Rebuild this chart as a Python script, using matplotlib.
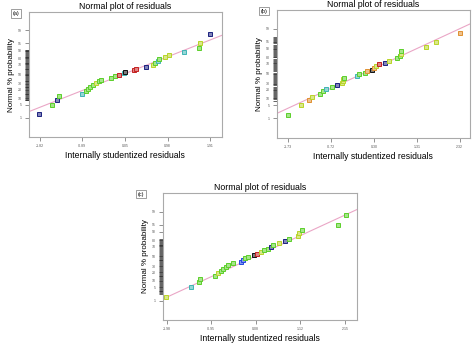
import numpy as np
import matplotlib
matplotlib.use("Agg")
import matplotlib.pyplot as plt
from matplotlib.colors import to_rgb
from statistics import NormalDist

plt.rcParams['font.family'] = ['Liberation Sans', 'DejaVu Sans']

# residuals (sorted)
resid_a = [-1.835, -1.55, -1.45, -1.40, -0.90, -0.80, -0.76, -0.71, -0.66, -0.58,
           -0.52, -0.48, -0.26, -0.17, -0.08, 0.02, 0.04, 0.25, 0.28, 0.51,
           0.67, 0.70, 0.76, 0.80, 0.92, 1.02, 1.33, 1.66, 1.69, 1.91]
resid_b = [-1.72, -1.43, -1.23, -1.15, -0.98, -0.90, -0.84, -0.69, -0.58, -0.46,
           -0.44, -0.43, -0.41, -0.10, -0.05, 0.10, 0.13, 0.25, 0.30, 0.36,
           0.41, 0.56, 0.66, 0.84, 0.91, 0.94, 0.95, 1.54, 1.76, 2.32]
resid_c = [-1.995, -1.41, -1.24, -1.22, -0.86, -0.80, -0.72, -0.67, -0.62, -0.57,
           -0.45, -0.26, -0.21, -0.16, -0.09, 0.05, 0.12, 0.20, 0.27, 0.37,
           0.44, 0.48, 0.62, 0.76, 0.86, 1.07, 1.09, 1.15, 2.00, 2.17]

# point colour codes per rank
cols_a = "NGNGTGGGGYGGGGRTKRRNYGTGYYTGYN"
cols_b = "GYOYGGTGNYYYGTGGOKOYRNYGGYGYYO"
cols_c = "YTGGGYGGGGGBBGGKRYGGNGYNGYYGGG"

xticks_a = [-1.82, -0.89, 0.05, 0.98, 1.91]
xticks_b = [-1.73, -0.72, 0.30, 1.31, 2.32]
xticks_c = [-1.98, -0.95, 0.08, 1.12, 2.15]

# fitted line: slope, intercept in normal-score units
line_a = [0.96, -0.02]
line_b = [1.02, -0.04]
line_c = [1.04, -0.09]

prob_ticks = [1, 5, 10, 20, 30, 50, 70, 80, 90, 95, 99]

palette = {'N': '#1c2280', 'G': '#5ccf2a', 'Y': '#b9d428', 'T': '#3fb4b4',
           'R': '#c42020', 'B': '#2346e0', 'K': '#111111', 'O': '#e09030'}

nd = NormalDist()


def lighten(c, f=0.45):
    r, g, b = to_rgb(c)
    return (r + (1 - r) * f, g + (1 - g) * f, b + (1 - b) * f)


def draw_panel(fig, rect, resid, cols, xticks, line, xlim, tag, tagx, band):
    ax = fig.add_axes(rect)
    n = len(resid)
    z = [nd.inv_cdf((i + 0.5) / n) for i in range(n)]
    xs = np.linspace(xlim[0], xlim[1], 2)
    ax.plot(xs, line[0] * xs + line[1], color='#eaa6c6', lw=0.8, zorder=1)
    for x, y, c in zip(resid, z, cols):
        col = palette[c]
        ax.plot(x, y, 's', ms=3.0, mfc=lighten(col), mec=col, mew=0.7, zorder=3)
    ax.set_xlim(xlim)
    ax.set_ylim(-3.35, 3.3)
    ax.set_xticks(xticks)
    ax.set_xticklabels(['%.2f' % t for t in xticks])
    ax.set_yticks([nd.inv_cdf(p / 100) for p in prob_ticks])
    ax.set_yticklabels([str(p) for p in prob_ticks])
    # dense tick stack on the left spine
    ax.set_yticks(np.linspace(band[0], band[1], 60), minor=True)
    ax.tick_params(axis='y', which='minor', length=3, width=0.5, color='#222222')
    ax.tick_params(axis='both', which='major', labelsize=2.5, length=3, width=0.5,
                   color='#666666', labelcolor='#555555', pad=2)
    for s in ax.spines.values():
        s.set_color('#aaaaaa')
        s.set_linewidth(0.8)
    ax.set_title('Normal plot of residuals', fontsize=6.3, pad=2)
    ax.set_xlabel('Internally studentized residuals', fontsize=6.2, labelpad=2)
    ax.set_ylabel('Normal % probability', fontsize=5.8, labelpad=2)
    ax.text(tagx, 1.01, tag, transform=ax.transAxes, fontsize=4, ha='center', va='top',
            bbox=dict(boxstyle='square,pad=0.3', fc='white', ec='#777777', lw=0.5))
    return ax


fig = plt.figure(figsize=(4.74, 3.46), dpi=100)
draw_panel(fig, [0.061, 0.604, 0.407, 0.361], resid_a, cols_a, xticks_a, line_a,
           (-2.06, 2.17), '(a)', -0.065, (-1.4, 1.3))
draw_panel(fig, [0.584, 0.601, 0.407, 0.370], resid_b, cols_b, xticks_b, line_b,
           (-1.99, 2.56), '(b)', -0.065, (-1.4, 1.9))
draw_panel(fig, [0.344, 0.075, 0.409, 0.367], resid_c, cols_c, xticks_c, line_c,
           (-2.07, 2.43), '(c)', -0.115, (-2.0, 0.9))

fig.savefig('out.png', dpi=100)
